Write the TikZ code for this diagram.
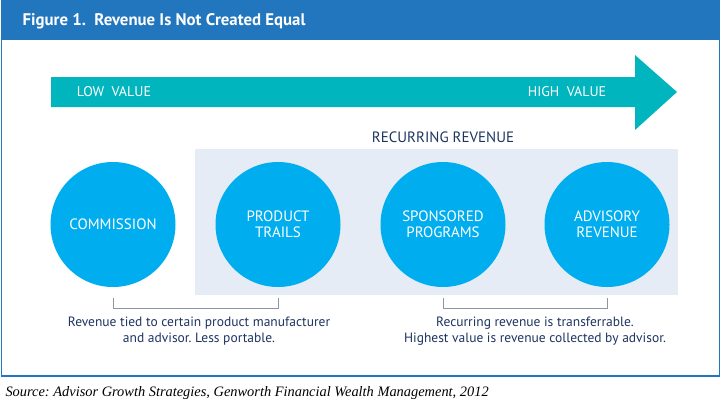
\documentclass[tikz,border=0pt]{standalone}
\usepackage{fontspec}
\setmainfont{PT Sans}
\newfontfamily\sourcefont{Liberation Serif}
\definecolor{headblue}{RGB}{34,118,189}
\definecolor{arrowteal}{RGB}{0,181,189}
\definecolor{circblue}{RGB}{0,174,239}
\definecolor{boxgray}{RGB}{230,236,245}
\definecolor{navy}{RGB}{28,52,96}
\definecolor{bracketgray}{RGB}{140,150,165}
\frenchspacing
\begin{document}
\begin{tikzpicture}[x=1pt,y=-1pt]
		\tikzstyle{unit}=[circle,fill=circblue,minimum size=125pt,inner sep=0pt,text=white,font=\fontsize{15}{16}\selectfont,align=center]
		\tikzstyle{annot}=[text=navy,font=\fontsize{13.5}{16}\selectfont,align=center]
		\tikzstyle{arrowtext}=[text=white,font=\fontsize{14}{16}\selectfont]
		\tikzstyle{bracket}=[draw=bracketgray,line width=0.8pt]

		\useasboundingbox (0,0) rectangle (723,408);
		\fill[headblue] (1,0) rectangle (720,40);
		\draw[headblue,line width=1.5pt] (1.5,0.75) rectangle (719.5,376);
		\node[anchor=west,text=white,font=\bfseries\fontsize{16.8}{20}\selectfont](title) at (19,21){Figure 1.\ \ Revenue Is Not Created Equal};

		\fill[arrowteal] (51,77) -- (635,77) -- (635,55) -- (677,92) -- (635,130) -- (635,107) -- (51,107) -- cycle;
		\node[arrowtext](low) at (114,92){LOW\ \ VALUE};
		\node[arrowtext](high) at (567,92){HIGH\ \ VALUE};

		\fill[boxgray] (195,149) rectangle (678,295);
		\node[annot,font=\fontsize{15}{16}\selectfont](recur) at (443,137){RECURRING REVENUE};

		\node[unit](c0) at (113,224.5){COMMISSION};
		\node[unit](c1) at (278,224.5){PRODUCT\\TRAILS};
		\node[unit](c2) at (443,224.5){SPONSORED\\PROGRAMS};
		\node[unit](c3) at (607,224.5){ADVISORY\\REVENUE};

		\foreach \i/\j in {0/1,2/3}
		{
		  \draw[bracket] ([yshift=-11pt]c\i.south) -- ++(0,10) -| ([yshift=-11pt]c\j.south);
		}

		\node[annot](note1) at (199,331){Revenue tied to certain product manufacturer\\and advisor. Less portable.};
		\node[annot](note2) at (535,331){Recurring revenue is transferrable.\\Highest value is revenue collected by advisor.};

		\node[anchor=west,font=\sourcefont\itshape\fontsize{14.4}{18}\selectfont](source) at (2,393){Source: Advisor Growth Strategies, Genworth Financial Wealth Management, 2012};
\end{tikzpicture}
\end{document}
